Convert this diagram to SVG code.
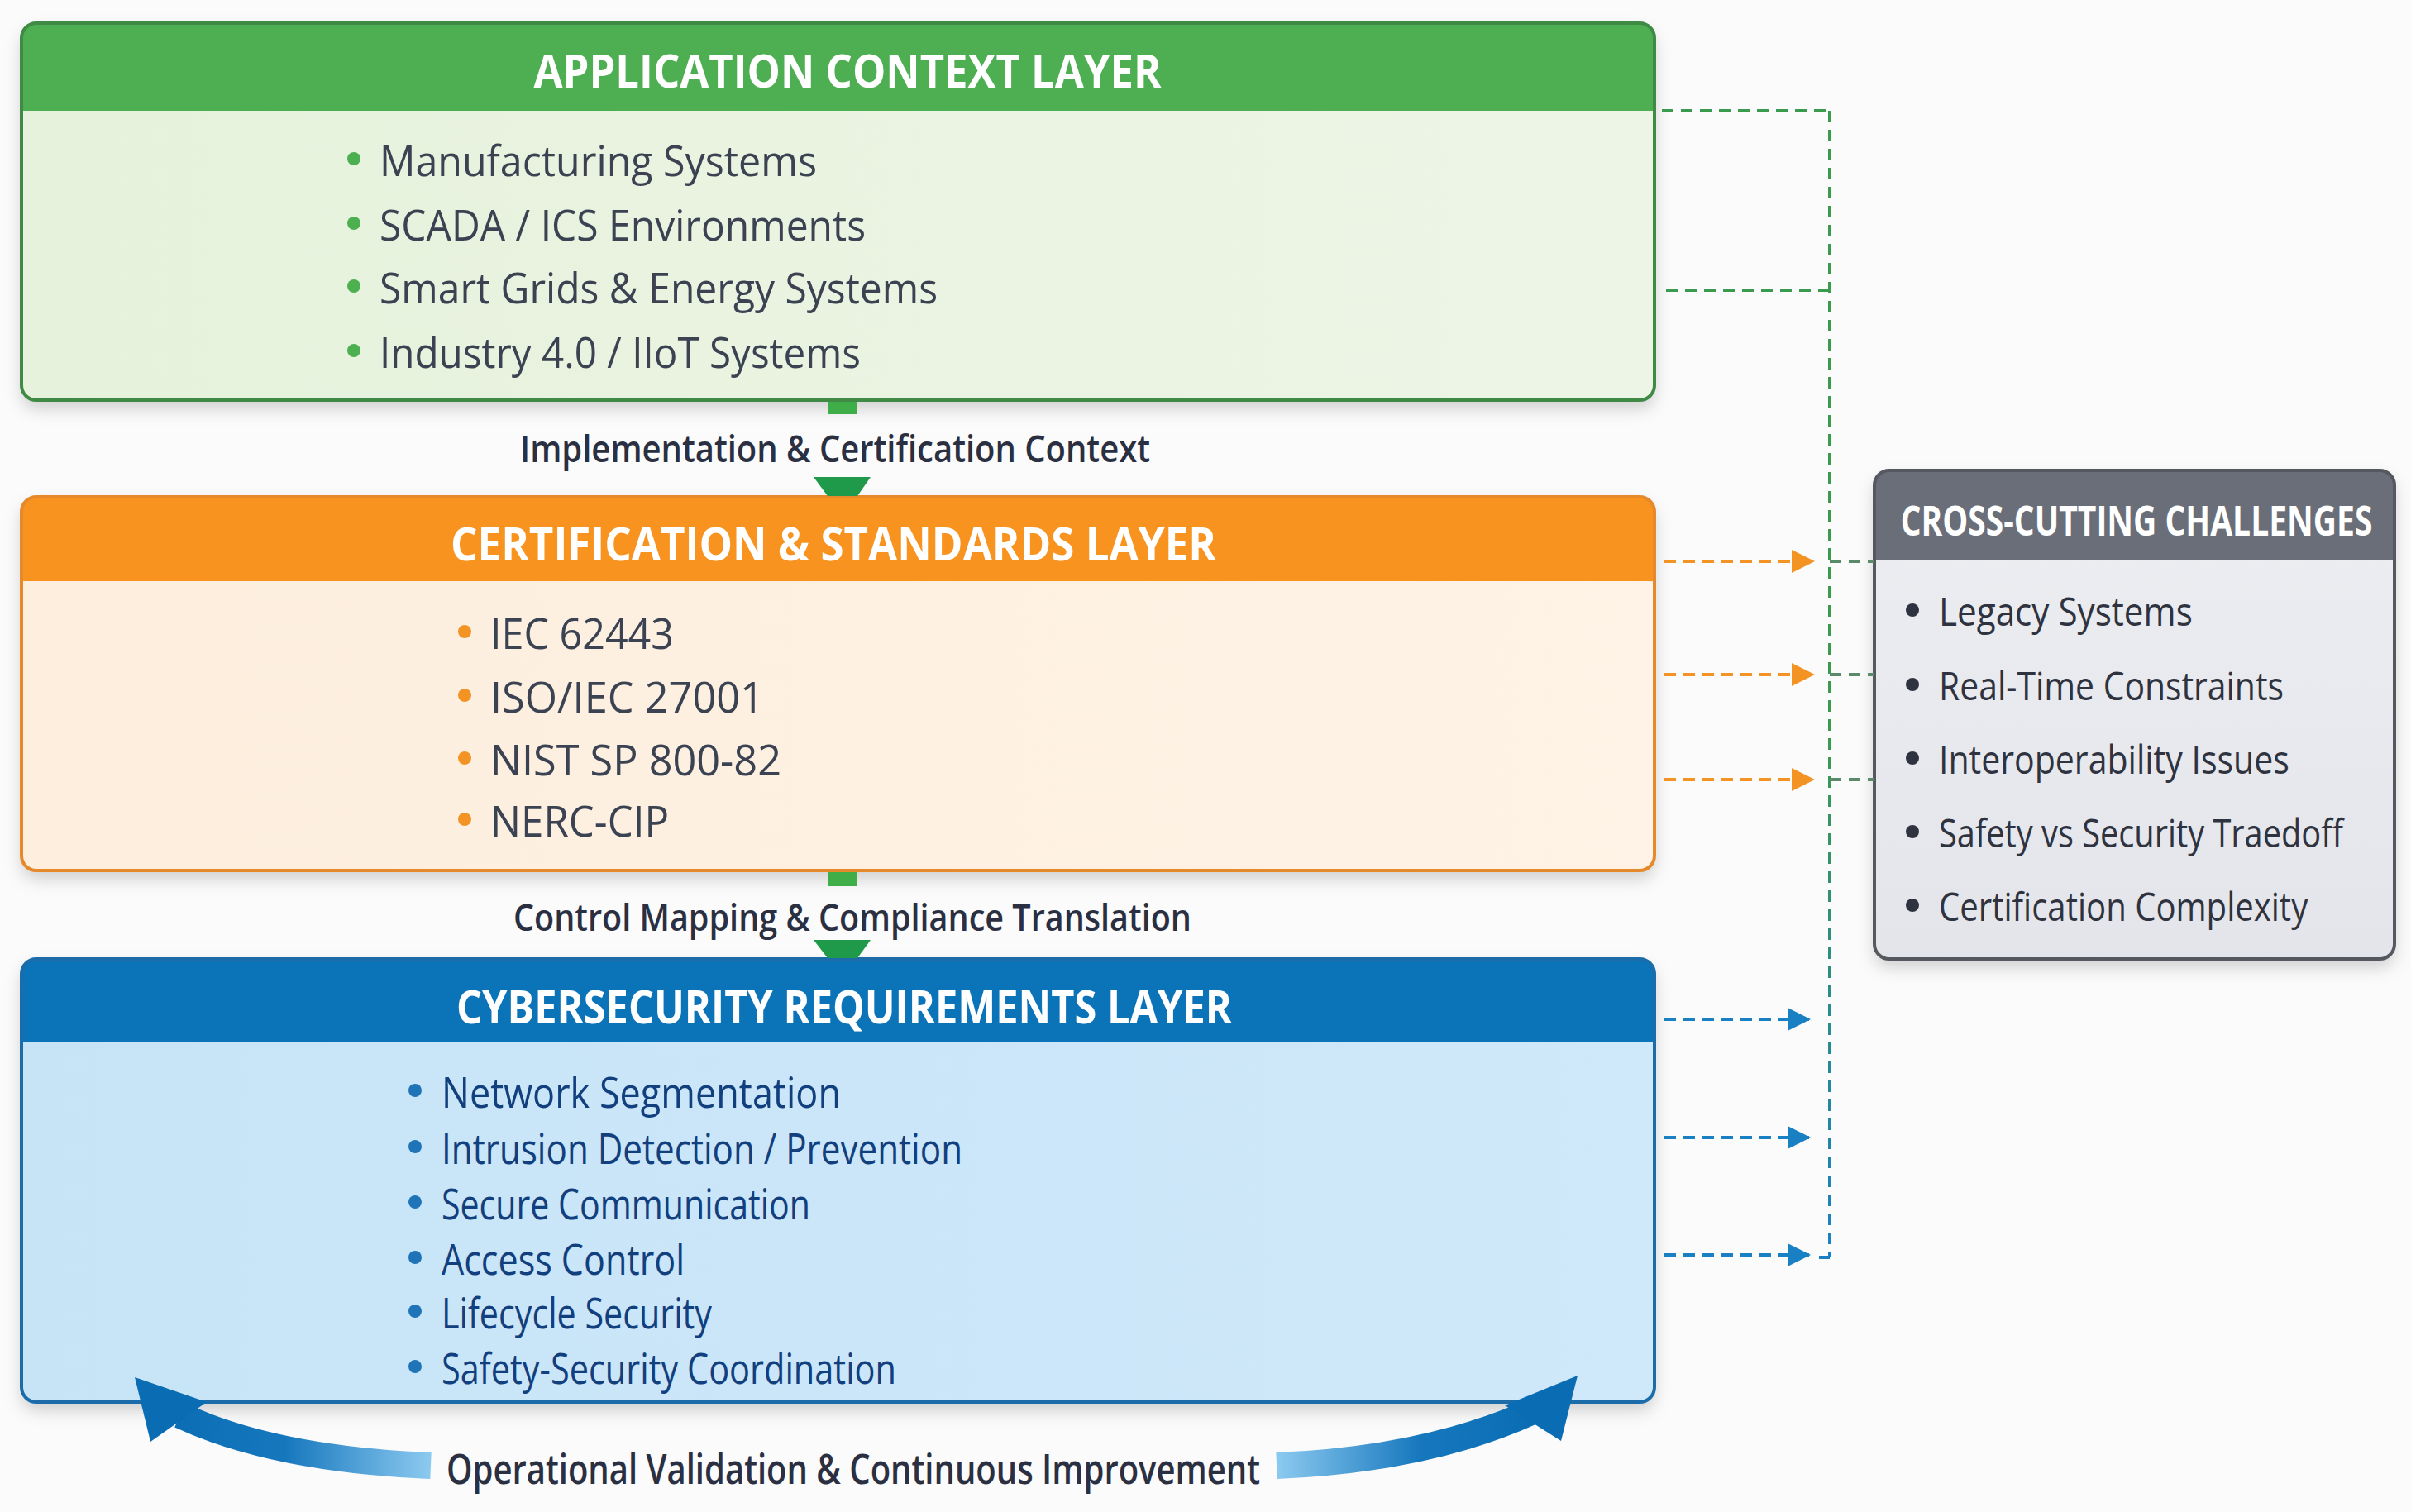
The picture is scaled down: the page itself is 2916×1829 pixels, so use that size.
<svg xmlns="http://www.w3.org/2000/svg" width="2916" height="1829" viewBox="0 0 2916 1829">
<defs>
  <style>
    .title{font-family:"Open Sans","Liberation Sans",sans-serif;font-weight:700;fill:#ffffff;font-size:56px;text-anchor:middle;dominant-baseline:central}
    .item{font-family:"Open Sans","Liberation Sans",sans-serif;font-weight:400;font-size:52px;dominant-baseline:central}
    .citem{font-family:"Open Sans","Liberation Sans",sans-serif;font-weight:400;font-size:48px;fill:#2f3340;dominant-baseline:central}
    .lbl{font-family:"Open Sans","Liberation Sans",sans-serif;font-weight:600;font-size:46px;fill:#2a3042;text-anchor:middle;dominant-baseline:central}
    .gtxt{fill:#3b4352}
    .otxt{fill:#3b4352}
    .btxt{fill:#123f7e}
    .dg{fill:none;stroke:#3a9a4e;stroke-width:4;stroke-dasharray:14 9}
    .do{fill:none;stroke:#f39324;stroke-width:4;stroke-dasharray:14 9}
    .db{fill:none;stroke:#1a80c4;stroke-width:4;stroke-dasharray:14 9}
    .ds{fill:none;stroke:#5b8a6b;stroke-width:4;stroke-dasharray:14 9}
  </style>
  <filter id="sh" x="-5%" y="-5%" width="110%" height="120%">
    <feDropShadow dx="0" dy="10" stdDeviation="10" flood-color="#000000" flood-opacity="0.18"/>
  </filter>
  <linearGradient id="gBody" x1="0" y1="0" x2="1" y2="0">
    <stop offset="0" stop-color="#e6f2dc"/><stop offset="1" stop-color="#edf5e6"/>
  </linearGradient>
  <linearGradient id="oBody" x1="0" y1="0" x2="1" y2="0">
    <stop offset="0" stop-color="#fdeedd"/><stop offset="1" stop-color="#fef3e6"/>
  </linearGradient>
  <linearGradient id="bBody" x1="0" y1="0" x2="1" y2="0">
    <stop offset="0" stop-color="#c7e4f7"/><stop offset="1" stop-color="#cfe8fa"/>
  </linearGradient>
  <linearGradient id="cBody" x1="0" y1="0" x2="0" y2="1">
    <stop offset="0" stop-color="#eceef2"/><stop offset="1" stop-color="#e4e5ea"/>
  </linearGradient>
  <linearGradient id="vline" gradientUnits="userSpaceOnUse" x1="0" y1="134" x2="0" y2="1521">
    <stop offset="0" stop-color="#3a9a4e"/><stop offset="0.55" stop-color="#3a9a4e"/><stop offset="1" stop-color="#1a80c4"/>
  </linearGradient>
  <linearGradient id="arrL" gradientUnits="userSpaceOnUse" x1="521" y1="0" x2="200" y2="0">
    <stop offset="0" stop-color="#8ccaf0"/><stop offset="0.55" stop-color="#1677bd"/><stop offset="1" stop-color="#0a6db3"/>
  </linearGradient>
  <linearGradient id="arrR" gradientUnits="userSpaceOnUse" x1="1544" y1="0" x2="1860" y2="0">
    <stop offset="0" stop-color="#8ccaf0"/><stop offset="0.55" stop-color="#1677bd"/><stop offset="1" stop-color="#0a6db3"/>
  </linearGradient>
  <marker id="mo" viewBox="0 0 10 10" refX="10" refY="5" markerWidth="7" markerHeight="7" markerUnits="strokeWidth" orient="auto">
    <path d="M0,0 L10,5 L0,10 Z" fill="#f39324"/>
  </marker>
  <marker id="mb" viewBox="0 0 10 10" refX="10" refY="5" markerWidth="7" markerHeight="7" markerUnits="strokeWidth" orient="auto">
    <path d="M0,0 L10,5 L0,10 Z" fill="#1a80c4"/>
  </marker>
</defs>

<rect x="0" y="0" width="2916" height="1829" fill="#fbfbfb"/>

<g id="app-layer">
  <rect x="26" y="28" width="1975" height="456" rx="18" fill="url(#gBody)" filter="url(#sh)"/>
  <path d="M26,134 V46 Q26,28 44,28 H1983 Q2001,28 2001,46 V134 Z" fill="#4dae52"/>
  <rect x="26" y="28" width="1975" height="456" rx="18" fill="none" stroke="#3f8a45" stroke-width="4"/>
  <text class="title" x="1025" y="84" textLength="759" lengthAdjust="spacingAndGlyphs">APPLICATION CONTEXT LAYER</text>
  <g fill="#4caf50">
    <circle cx="428" cy="192" r="8"/><circle cx="428" cy="270" r="8"/><circle cx="428" cy="346" r="8"/><circle cx="428" cy="424" r="8"/>
  </g>
  <text class="item gtxt" x="459" y="192" textLength="529" lengthAdjust="spacingAndGlyphs">Manufacturing Systems</text>
  <text class="item gtxt" x="459" y="270" textLength="588" lengthAdjust="spacingAndGlyphs">SCADA / ICS Environments</text>
  <text class="item gtxt" x="459" y="346" textLength="675" lengthAdjust="spacingAndGlyphs">Smart Grids &amp; Energy Systems</text>
  <text class="item gtxt" x="459" y="424" textLength="582" lengthAdjust="spacingAndGlyphs">Industry 4.0 / IIoT Systems</text>
</g>

<g id="cert-layer">
  <rect x="26" y="601" width="1975" height="452" rx="18" fill="url(#oBody)" filter="url(#sh)"/>
  <path d="M26,703 V619 Q26,601 44,601 H1983 Q2001,601 2001,619 V703 Z" fill="#f7931e"/>
  <rect x="26" y="601" width="1975" height="452" rx="18" fill="none" stroke="#e5892b" stroke-width="4"/>
  <text class="title" x="1008" y="656" textLength="926" lengthAdjust="spacingAndGlyphs">CERTIFICATION &amp; STANDARDS LAYER</text>
  <g fill="#f39324">
    <circle cx="562" cy="764" r="8"/><circle cx="562" cy="841" r="8"/><circle cx="562" cy="917" r="8"/><circle cx="562" cy="991" r="8"/>
  </g>
  <text class="item otxt" x="593" y="764" textLength="222" lengthAdjust="spacingAndGlyphs">IEC 62443</text>
  <text class="item otxt" x="593" y="841" textLength="331" lengthAdjust="spacingAndGlyphs">ISO/IEC 27001</text>
  <text class="item otxt" x="593" y="917" textLength="352" lengthAdjust="spacingAndGlyphs">NIST SP 800-82</text>
  <text class="item otxt" x="593" y="991" textLength="216" lengthAdjust="spacingAndGlyphs">NERC-CIP</text>
</g>

<g id="cyber-layer">
  <rect x="26" y="1160" width="1975" height="536" rx="18" fill="url(#bBody)" filter="url(#sh)"/>
  <path d="M26,1261 V1178 Q26,1160 44,1160 H1983 Q2001,1160 2001,1178 V1261 Z" fill="#0b73b8"/>
  <rect x="26" y="1160" width="1975" height="536" rx="18" fill="none" stroke="#1b6ca8" stroke-width="4"/>
  <text class="title" x="1021" y="1216" textLength="938" lengthAdjust="spacingAndGlyphs">CYBERSECURITY REQUIREMENTS LAYER</text>
  <g fill="#1f74b8">
    <circle cx="502" cy="1319" r="8"/><circle cx="502" cy="1387" r="8"/><circle cx="502" cy="1454" r="8"/><circle cx="502" cy="1521" r="8"/><circle cx="502" cy="1586" r="8"/><circle cx="502" cy="1653" r="8"/>
  </g>
  <text class="item btxt" x="534" y="1319" textLength="483" lengthAdjust="spacingAndGlyphs">Network Segmentation</text>
  <text class="item btxt" x="534" y="1387" textLength="630" lengthAdjust="spacingAndGlyphs">Intrusion Detection / Prevention</text>
  <text class="item btxt" x="534" y="1454" textLength="446" lengthAdjust="spacingAndGlyphs">Secure Communication</text>
  <text class="item btxt" x="534" y="1521" textLength="294" lengthAdjust="spacingAndGlyphs">Access Control</text>
  <text class="item btxt" x="534" y="1586" textLength="327" lengthAdjust="spacingAndGlyphs">Lifecycle Security</text>
  <text class="item btxt" x="534" y="1653" textLength="550" lengthAdjust="spacingAndGlyphs">Safety-Security Coordination</text>
</g>

<g id="challenges">
  <rect x="2267" y="569" width="629" height="591" rx="18" fill="url(#cBody)" filter="url(#sh)"/>
  <path d="M2267,677 V587 Q2267,569 2285,569 H2878 Q2896,569 2896,587 V677 Z" fill="#6a6e79"/>
  <rect x="2267" y="569" width="629" height="591" rx="18" fill="none" stroke="#55585f" stroke-width="4"/>
  <text class="title" transform="translate(2584,629) scale(0.75,1)" x="0" y="0" style="font-size:50px" textLength="761" lengthAdjust="spacingAndGlyphs">CROSS-CUTTING CHALLENGES</text>
  <g fill="#2f3340">
    <circle cx="2313" cy="738" r="8"/><circle cx="2313" cy="828" r="8"/><circle cx="2313" cy="917" r="8"/><circle cx="2313" cy="1006" r="8"/><circle cx="2313" cy="1095" r="8"/>
  </g>
  <text class="citem" transform="translate(2345,738) scale(0.75,1)" x="0" y="0" textLength="409" lengthAdjust="spacingAndGlyphs">Legacy Systems</text>
  <text class="citem" transform="translate(2345,828) scale(0.75,1)" x="0" y="0" textLength="556" lengthAdjust="spacingAndGlyphs">Real-Time Constraints</text>
  <text class="citem" transform="translate(2345,917) scale(0.75,1)" x="0" y="0" textLength="565" lengthAdjust="spacingAndGlyphs">Interoperability Issues</text>
  <text class="citem" transform="translate(2345,1006) scale(0.75,1)" x="0" y="0" textLength="652" lengthAdjust="spacingAndGlyphs">Safety vs Security Traedoff</text>
  <text class="citem" transform="translate(2345,1095) scale(0.75,1)" x="0" y="0" textLength="595" lengthAdjust="spacingAndGlyphs">Certification Complexity</text>
</g>

<g id="label-impl">
  <text class="lbl" x="1010" y="541" textLength="762" lengthAdjust="spacingAndGlyphs">Implementation &amp; Certification Context</text>
</g>
<g id="label-ctrl">
  <text class="lbl" x="1031" y="1108" textLength="820" lengthAdjust="spacingAndGlyphs">Control Mapping &amp; Compliance Translation</text>
</g>
<g id="label-ops">
  <text class="lbl" x="1032" y="1776" textLength="984" lengthAdjust="spacingAndGlyphs" style="font-size:50px">Operational Validation &amp; Continuous Improvement</text>
</g>

<g id="connectors">
  <!-- flow stubs and triangles between layers -->
  <rect x="1002" y="486" width="35" height="15" fill="#3fae49"/>
  <path d="M984,577 L1053,577 L1037,600 L1001,600 Z" fill="#1f9a4a"/>
  <rect x="1002" y="1055" width="35" height="17" fill="#3fae49"/>
  <path d="M984,1137 L1053,1137 L1037,1159 L1001,1159 Z" fill="#1f9a4a"/>
  <!-- green dashed from application layer -->
  <path class="dg" d="M2010,134 H2213"/>
  <path class="dg" d="M2015,351 H2213"/>
  <path d="M2213,134 V1521" fill="none" stroke="url(#vline)" stroke-width="4" stroke-dasharray="14 9"/>
  <!-- orange arrows -->
  <path class="do" d="M2013,679 H2195" marker-end="url(#mo)"/>
  <path class="do" d="M2013,816 H2195" marker-end="url(#mo)"/>
  <path class="do" d="M2013,943 H2195" marker-end="url(#mo)"/>
  <!-- blue arrows -->
  <path class="db" d="M2013,1233 H2190" marker-end="url(#mb)"/>
  <path class="db" d="M2013,1376 H2190" marker-end="url(#mb)"/>
  <path class="db" d="M2013,1518 H2190" marker-end="url(#mb)"/>
  <path d="M2200,1521 H2213" stroke="#1a80c4" stroke-width="4"/>
  <!-- stubs into challenges box -->
  <path class="ds" d="M2213,679 H2267"/>
  <path class="ds" d="M2213,816 H2267"/>
  <path class="ds" d="M2213,943 H2267"/>
  <!-- feedback arrows -->
  <path d="M521,1773 C400,1768 295,1748 218,1712" fill="none" stroke="url(#arrL)" stroke-width="32"/>
  <path d="M163,1666 L250,1696 L182,1744 Z" fill="#0a6db3"/>
  <path d="M1544,1773 C1665,1768 1770,1745 1852,1708" fill="none" stroke="url(#arrR)" stroke-width="32"/>
  <path d="M1908,1664 L1888,1743 L1820,1700 Z" fill="#0a6db3"/>
</g>
</svg>
